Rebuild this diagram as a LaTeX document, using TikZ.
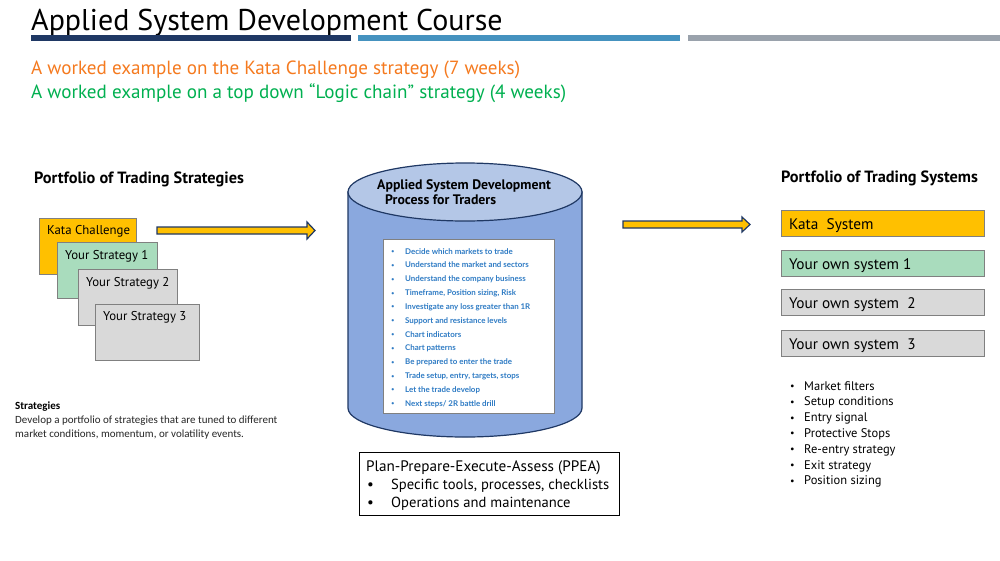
\documentclass[tikz,border=0pt]{standalone}
\usepackage{fontspec}
\setmainfont{PT Sans}
\newfontfamily\gillf{PT Sans}
\newfontfamily\calf{Carlito}
\newfontfamily\latof{Lato}
\usetikzlibrary{calc}
\definecolor{navy}{HTML}{1F3864}
\definecolor{barblue}{HTML}{4592BF}
\definecolor{bargray}{HTML}{9AA2AC}
\definecolor{orangeT}{HTML}{F57A1F}
\definecolor{greenT}{HTML}{00B050}
\definecolor{gold}{HTML}{FFC000}
\definecolor{mint}{HTML}{A9DCBD}
\definecolor{lgray}{HTML}{D9D9D9}
\definecolor{boxedge}{HTML}{808080}
\definecolor{cyltop}{HTML}{B4C7E7}
\definecolor{cylbody}{HTML}{8AA8DE}
\definecolor{listblue}{HTML}{2E7BC4}
\tikzset{
  stratbox/.style={draw=boxedge, line width=0.9pt, minimum width=#1, anchor=north west, inner sep=0pt},
  sysbox/.style={draw=boxedge, line width=0.9pt, minimum width=203pt, minimum height=26pt, anchor=north west, inner sep=0pt},
  boxtxt/.style={anchor=base west, font=\gillf\fontsize{12.8}{15}\selectfont, inner sep=0pt},
  systxt/.style={anchor=base west, font=\gillf\fontsize{15.3}{17}\selectfont, inner sep=0pt},
  blockarrow/.style={fill=gold, draw=navy, line width=1.2pt, line join=miter},
  listtxt/.style={anchor=base west, font=\latof\bfseries\fontsize{7.9}{9}\selectfont, text=listblue, inner sep=0pt},
  listbul/.style={anchor=base west, font=\latof\fontsize{6}{9}\selectfont, text=listblue, inner sep=0pt},
  rbul/.style={anchor=base west, font=\gillf\fontsize{12.5}{14}\selectfont, inner sep=0pt},
  rdot/.style={anchor=base west, font=\gillf\fontsize{10}{14}\selectfont, inner sep=0pt},
  heading/.style={anchor=base west, font=\gillf\bfseries\fontsize{16.3}{18}\selectfont, inner sep=0pt},
}
\begin{document}
\begin{tikzpicture}[x=1pt,y=-1pt]
\useasboundingbox[fill=white] (0,0) rectangle (1000,560);
% title
\node[anchor=base west, inner sep=0pt, font=\gillf\fontsize{30}{32}\selectfont] (title) at (31,30) {Applied System Development Course};
\fill[navy] (31,35) rectangle (351,41);
\fill[barblue] (358,35) rectangle (680,41);
\fill[bargray] (688,35) rectangle (1000,41);
\node[anchor=base west, inner sep=0pt, text=orangeT, font=\gillf\fontsize{19.1}{21}\selectfont] (sub1) at (31,74) {A worked example on the Kata Challenge strategy (7 weeks)};
\node[anchor=base west, inner sep=0pt, text=greenT, font=\gillf\fontsize{19.1}{21}\selectfont] (sub2) at (31,98) {A worked example on a top down “Logic chain” strategy (4 weeks)};
% left heading
\node[heading] (lh) at (34,183) {Portfolio of Trading Strategies};
% strategy boxes
\node[stratbox=97pt, minimum height=56pt, fill=gold] (s0) at (39,218) {};
\node[boxtxt] (s0t) at (47,234) {Kata Challenge};
\node[stratbox=100pt, minimum height=56pt, fill=mint] (s1) at (57,242) {};
\node[boxtxt] (s1t) at (65,259) {Your Strategy 1};
\node[stratbox=99pt, minimum height=56pt, fill=lgray] (s2) at (78,269) {};
\node[boxtxt] (s2t) at (86,286) {Your Strategy 2};
\node[stratbox=104pt, minimum height=56pt, fill=lgray] (s3) at (95,304) {};
\node[boxtxt] (s3t) at (103,320) {Your Strategy 3};
% left arrow
\draw[blockarrow] (157,227) -- (307,227) -- (307,222) -- (315,230.5) -- (307,239) -- (307,234) -- (157,234) -- cycle;
% cylinder
\draw[fill=cylbody, draw=navy, line width=1.2pt] (348,192) -- (348,408) arc[start angle=180, end angle=0, x radius=117, y radius=29] -- (582,192) -- cycle;
\draw[fill=cyltop, draw=navy, line width=1.2pt] (465,192) ellipse [x radius=117, y radius=29];
\node[anchor=base west, inner sep=0pt, font=\gillf\bfseries\fontsize{13.8}{15}\selectfont] (ct1) at (377,189) {Applied System Development};
\node[anchor=base west, inner sep=0pt, font=\gillf\bfseries\fontsize{13.8}{15}\selectfont] (ct2) at (385,204) {Process for Traders};
\node[draw=boxedge, fill=white, line width=0.8pt, anchor=north west, minimum width=171pt, minimum height=174pt, inner sep=0pt] (list) at (383,239) {};
\foreach \t [count=\i from 0] in {Decide which markets to trade,Understand the market and sectors,Understand the company business,{Timeframe, Position sizing, Risk},Investigate any loss greater than 1R,Support and resistance levels,Chart indicators,Chart patterns,Be prepared to enter the trade,{Trade setup, entry, targets, stops},Let the trade develop,Next steps/ 2R battle drill}{
  \node[listtxt] (li\i) at (405,{254+13.84*\i}) {\t};
  \node[listbul] (lb\i) at (391,{253.5+13.84*\i}) {•};
}
% PPEA box
\node[draw=black, line width=1.2pt, anchor=north west, minimum width=260pt, minimum height=63pt, inner sep=0pt] (ppea) at (359,452) {};
\node[anchor=base west, inner sep=0pt, font=\gillf\fontsize{15.2}{17}\selectfont] (p0) at (366,471) {Plan-Prepare-Execute-Assess (PPEA)};
\node[anchor=base west, inner sep=0pt, font=\gillf\fontsize{15}{17}\selectfont] (p1b) at (367,489) {•};
\node[anchor=base west, inner sep=0pt, font=\gillf\fontsize{14.6}{17}\selectfont] (p1) at (391,489) {Specific tools, processes, checklists};
\node[anchor=base west, inner sep=0pt, font=\gillf\fontsize{15}{17}\selectfont] (p2b) at (367,507) {•};
\node[anchor=base west, inner sep=0pt, font=\gillf\fontsize{14.6}{17}\selectfont] (p2) at (391,507) {Operations and maintenance};
% left bottom text
\node[anchor=base west, inner sep=0pt, font=\calf\bfseries\fontsize{11}{12}\selectfont] (st) at (15,409) {Strategies};
\node[anchor=base west, inner sep=0pt, font=\calf\fontsize{11}{12}\selectfont, text=black!85] (sd1) at (15,423) {Develop a portfolio of strategies that are tuned to different};
\node[anchor=base west, inner sep=0pt, font=\calf\fontsize{11}{12}\selectfont, text=black!85] (sd2) at (15,437) {market conditions, momentum, or volatility events.};
% right arrow
\draw[blockarrow] (623,221) -- (742,221) -- (742,217) -- (750,224.5) -- (742,232) -- (742,228) -- (623,228) -- cycle;
% right heading
\node[heading] (rh) at (781,182) {Portfolio of Trading Systems};
\node[sysbox, fill=gold] (k) at (781,210) {};
\node[systxt] (kt) at (789,229) {Kata\ \ System};
\node[sysbox, fill=mint] (y1) at (781,250) {};
\node[systxt] (y1t) at (789,269) {Your own system 1};
\node[sysbox, fill=lgray] (y2) at (781,289) {};
\node[systxt] (y2t) at (789,308) {Your own system\ \ 2};
\node[sysbox, fill=lgray] (y3) at (781,330) {};
\node[systxt] (y3t) at (789,349) {Your own system\ \ 3};
\foreach \t [count=\i from 0] in {Market filters,Setup conditions,Entry signal,Protective Stops,Re-entry strategy,Exit strategy,Position sizing}{
  \node[rdot] (rb\i) at (790,{389.5+15.8*\i}) {•};
  \node[rbul] (rt\i) at (804,{390+15.8*\i}) {\t};
}
\end{tikzpicture}
\end{document}
